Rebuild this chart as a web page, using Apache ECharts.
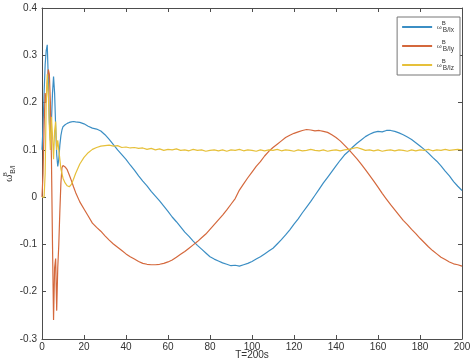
<!DOCTYPE html>
<html><head><meta charset="utf-8">
<script src="https://cdn.jsdelivr.net/npm/echarts@6/dist/echarts.min.js"></script>
<style>html,body{margin:0;padding:0;background:#fff}#c{width:474px;height:363px}</style>
</head><body><div id="c"></div>
<script>
const times = [0,0.5,1,1.5,2,2.5,3,3.5,4,4.5,5,5.5,6,6.5,7,7.5,8,8.5,9,9.5,10,
  11,12,13,14,15,16,18,
  20,22,24,26,28,30,32,34,36,38,40,42,44,46,48,50,52,54,56,58,60,
  62,64,66,68,70,72,74,76,78,80,82,84,86,88,90,92,94,96,98,100,
  102,104,106,108,110,112,114,116,118,120,122,124,126,128,130,132,134,136,138,140,
  142,144,146,148,150,152,154,156,158,160,162,164,166,168,170,172,174,176,178,180,
  182,184,186,188,190,192,194,196,198,200];
const blueIx = [0.10,0.15,0.22,0.28,0.31,0.322,0.25,0.16,0.12,0.16,0.22,0.255,0.22,0.15,0.09,0.065,0.08,0.11,0.13,0.142,0.149,
  0.153,0.156,0.158,0.159,0.160,0.159,0.158,
  0.155,0.150,0.146,0.144,0.140,0.132,0.122,0.111,0.100,0.090,0.080,0.068,0.057,0.045,0.034,0.024,0.012,0.002,-0.008,-0.019,-0.030,
  -0.042,-0.052,-0.063,-0.074,-0.083,-0.093,-0.102,-0.110,-0.118,-0.126,-0.131,-0.135,-0.139,-0.142,-0.145,-0.144,-0.146,-0.143,-0.140,-0.136,
  -0.131,-0.126,-0.120,-0.114,-0.108,-0.099,-0.090,-0.080,-0.069,-0.057,-0.046,-0.033,-0.021,-0.009,0.004,0.017,0.030,0.042,0.054,0.066,
  0.078,0.089,0.097,0.106,0.114,0.121,0.128,0.133,0.137,0.139,0.138,0.141,0.141,0.139,0.136,0.132,0.127,0.122,0.115,0.108,
  0.101,0.093,0.084,0.076,0.066,0.055,0.045,0.033,0.023,0.014];
const redIy = [0.0,0.05,0.15,0.22,0.20,0.24,0.27,0.26,0.20,0.08,-0.10,-0.26,-0.15,-0.13,-0.24,-0.15,-0.10,-0.03,0.03,0.062,0.067,
  0.064,0.058,0.047,0.035,0.022,0.010,-0.010,
  -0.025,-0.040,-0.055,-0.064,-0.072,-0.082,-0.091,-0.099,-0.106,-0.113,-0.120,-0.126,-0.131,-0.136,-0.140,-0.142,-0.143,-0.143,-0.142,-0.140,-0.137,
  -0.133,-0.127,-0.121,-0.115,-0.108,-0.101,-0.094,-0.086,-0.078,-0.068,-0.058,-0.048,-0.038,-0.027,-0.015,-0.003,0.015,0.028,0.041,0.053,
  0.065,0.075,0.087,0.097,0.105,0.112,0.119,0.126,0.131,0.135,0.138,0.141,0.143,0.142,0.140,0.141,0.139,0.137,0.132,0.126,
  0.119,0.110,0.101,0.091,0.081,0.070,0.058,0.046,0.034,0.021,0.008,-0.004,-0.016,-0.027,-0.038,-0.049,-0.058,-0.068,-0.077,-0.087,
  -0.096,-0.105,-0.113,-0.120,-0.127,-0.132,-0.137,-0.141,-0.143,-0.146];
const yellowIz = [0.0,0.0,0.0,0.05,0.20,0.26,0.22,0.15,0.10,0.17,0.13,0.08,0.14,0.16,0.10,0.12,0.10,0.08,0.06,0.05,0.04,
  0.030,0.024,0.022,0.027,0.038,0.050,0.070,
  0.084,0.094,0.101,0.105,0.108,0.109,0.110,0.108,0.109,0.105,0.106,0.104,0.105,0.103,0.104,0.101,0.103,0.100,0.102,0.099,0.101,
  0.100,0.102,0.099,0.100,0.098,0.101,0.099,0.100,0.097,0.099,0.100,0.098,0.100,0.097,0.100,0.099,0.101,0.098,0.100,0.099,
  0.097,0.100,0.098,0.100,0.099,0.101,0.098,0.100,0.099,0.097,0.100,0.098,0.099,0.101,0.099,0.098,0.100,0.097,0.099,0.100,
  0.098,0.100,0.101,0.103,0.105,0.102,0.099,0.100,0.098,0.100,0.097,0.099,0.100,0.098,0.100,0.099,0.097,0.100,0.098,0.100,
  0.099,0.101,0.098,0.100,0.099,0.101,0.099,0.100,0.101,0.100];
const seriesNames = ['wx','wy','wz'];
const legendLabels = {wx:'B/Ix', wy:'B/Iy', wz:'B/Iz'};
const xTicks = {min:0, max:200, interval:20};
const yTicks = {min:-0.3, max:0.4, interval:0.1};

const chart = echarts.init(document.getElementById('c'), null, {renderer:'canvas'});
const font = 'Liberation Sans, Arial, sans-serif';
const axisColor = '#4d4d4d';
const richT = {
  w:{fontSize:9, fontFamily:font, color:'#333'},
  sup:{fontSize:6, fontFamily:font, color:'#333', width:1, padding:[0,0,9,0]},
  sub:{fontSize:7, fontFamily:font, color:'#333', padding:[8,0,0,0]}
};
const mk = (name, vals, color) => ({
  name, type:'line', symbol:'none', data: times.map((t,i)=>[t, vals[i]]),
  lineStyle:{color, width:1.2}, itemStyle:{color}, animation:false
});
chart.setOption({
  animation:false,
  grid:{left:42, right:12, top:8, bottom:24, containLabel:false, outerBoundsMode:'none'},
  legend:{
    orient:'vertical', right:14, top:17, itemWidth:30, itemHeight:2, itemGap:5,
    icon:'rect',
    padding:[3,6,3,5], borderColor:'#777', borderWidth:1, backgroundColor:'#fff',
    data:seriesNames,
    formatter: n => '{w|ω}{sup|B}{sub|' + legendLabels[n] + '}',
    textStyle:{rich:{
      w:{fontSize:6, fontFamily:font, color:'#333'},
      sup:{fontSize:6, fontFamily:font, color:'#333', width:1, padding:[0,0,8,0]},
      sub:{fontSize:6.5, fontFamily:font, color:'#333', padding:[7,0,0,0]}
    }}
  },
  xAxis:[{
    type:'value', min:xTicks.min, max:xTicks.max, interval:xTicks.interval,
    name:'T=200s', nameLocation:'middle', nameGap:11, nameMoveOverlap:false,
    nameTextStyle:{fontSize:10, fontFamily:font, color:'#333'},
    axisLine:{onZero:false, lineStyle:{color:axisColor, width:1}},
    axisTick:{inside:true, length:4, lineStyle:{color:axisColor}},
    axisLabel:{fontSize:10, fontFamily:font, color:'#333', margin:3},
    splitLine:{show:false}
  },{
    type:'value', position:'top', min:xTicks.min, max:xTicks.max, interval:xTicks.interval,
    axisLine:{onZero:false, lineStyle:{color:axisColor, width:1}},
    axisTick:{inside:true, length:4, lineStyle:{color:axisColor}},
    axisLabel:{show:false}, splitLine:{show:false}
  }],
  yAxis:[{
    type:'value', min:yTicks.min, max:yTicks.max, interval:yTicks.interval,
    name:'{w|ω}{sup|B}{sub|B/I}', nameLocation:'middle', nameGap:25, nameRotate:90, nameMoveOverlap:false,
    nameTextStyle:{rich:richT},
    axisLine:{onZero:false, lineStyle:{color:axisColor, width:1}},
    axisTick:{inside:true, length:4, lineStyle:{color:axisColor}},
    axisLabel:{fontSize:10, fontFamily:font, color:'#333', margin:5,
      formatter: v => { const r = Math.round(v*10)/10; return r === 0 ? '0' : String(r); }},
    splitLine:{show:false}
  },{
    type:'value', position:'right', min:yTicks.min, max:yTicks.max, interval:yTicks.interval,
    axisLine:{onZero:false, lineStyle:{color:axisColor, width:1}},
    axisTick:{inside:true, length:4, lineStyle:{color:axisColor}},
    axisLabel:{show:false}, splitLine:{show:false}
  }],
  series:[
    mk('wx', blueIx, '#3b8ec4'),
    mk('wy', redIy, '#d4683c'),
    mk('wz', yellowIz, '#e6c03a')
  ]
});
</script></body></html>
